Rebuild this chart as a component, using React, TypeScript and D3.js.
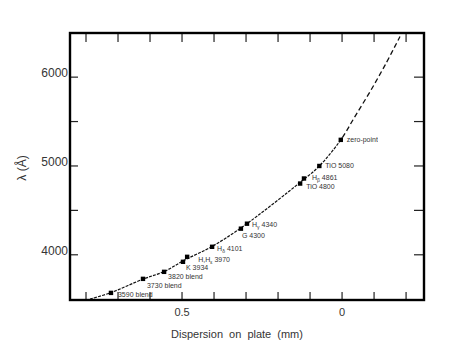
import React from "react";
import * as d3 from "d3";

// Measured calibration points (dispersion on plate in mm, wavelength in Å)
const pointNames = [
  "zero-point", "TiO 5080", "Hβ 4861", "TiO 4800", "Hγ 4340", "G 4300",
  "Hδ 4101", "H,Hε 3970", "K 3934", "3820 blend", "3730 blend", "3590 blend",
];
const dispersion = [0.004, 0.071, 0.119, 0.131, 0.297, 0.316, 0.406, 0.484, 0.497, 0.556, 0.622, 0.722];
const wavelength = [5294, 5000, 4859, 4802, 4350, 4294, 4090, 3977, 3921, 3808, 3729, 3571];

// Fitted dispersion curve
const curveDispersion = [0.7875, 0.7228, 0.6228, 0.5563, 0.4906, 0.4063, 0.3084, 0.1259, 0.0709, 0.004, -0.0406, -0.0875, -0.1344, -0.181];
const curveWavelength = [3502, 3573, 3725, 3811, 3943, 4094, 4321, 4830, 5000, 5294, 5559, 5837, 6136, 6457];

const xTickValues = [0.8, 0.7, 0.6, 0.5, 0.4, 0.3, 0.2, 0.1, 0, -0.1, -0.2];
const xTickLabels = ["0.5", "0"];
const xLabelValues = [0.5, 0];
const yTickValues = [4000, 4500, 5000, 5500, 6000];
const yLabelValues = [4000, 5000, 6000];

// label offsets in px (layout only)
const labelDx = [6, 6, 8, 6, 5, 1, 5, 11, 3, 4, 4, 7];
const labelDy = [0, 0, 0, 4, 1, 7, 2, 3, 6, 5, 7, 2];

const W = 474, H = 348;
const L = 70, R = 424, T = 33, B = 300;

function renderName(name: string) {
  const m = name.match(/^(H,)?H([βγδε])(.*)$/);
  if (!m) return name;
  return (
    <>
      {m[1] ? "H," : ""}H
      <tspan baselineShift="sub" fontSize={5}>{m[2]}</tspan>
      {m[3]}
    </>
  );
}

export default function App() {
  const x = d3.scaleLinear().domain([0.85, -0.256]).range([L, R]);
  const y = d3.scaleLinear().domain([3491, 6497]).range([B, T]);
  const line = d3
    .line<number>()
    .x((_, i) => x(curveDispersion[i]))
    .y((_, i) => y(curveWavelength[i]))
    .curve(d3.curveCatmullRom.alpha(0.5));
  const path = line(curveDispersion) || "";
  const x0 = x(0);
  const textColor = "#333";

  return (
    <svg width={W} height={H} style={{ position: "absolute", left: 0, top: 0, background: "#fff" }}
      fontFamily="Liberation Sans, Arial, sans-serif">
      <defs>
        <clipPath id="lowClip"><rect x={L} y={T} width={x0 - L} height={B - T} /></clipPath>
        <clipPath id="highClip"><rect x={x0} y={T} width={R - x0} height={B - T} /></clipPath>
      </defs>
      <rect x={0} y={0} width={W} height={H} fill="#fff" />

      {xTickValues.map((v) => (
        <g key={"xt" + v}>
          <line x1={x(v)} x2={x(v)} y1={T} y2={T + 9} stroke="#222" strokeWidth={1.2} />
          <line x1={x(v)} x2={x(v)} y1={B} y2={B - 8} stroke="#222" strokeWidth={1.2} />
        </g>
      ))}
      {yTickValues.map((v) => (
        <g key={"yt" + v}>
          <line x1={L} x2={L + 8} y1={y(v)} y2={y(v)} stroke="#222" strokeWidth={1.2} />
          <line x1={R} x2={R - 10} y1={y(v)} y2={y(v)} stroke="#222" strokeWidth={1.2} />
        </g>
      ))}

      <path d={path} fill="none" stroke="#111" strokeWidth={1.2} strokeDasharray="3,1.2" clipPath="url(#lowClip)" />
      <path d={path} fill="none" stroke="#111" strokeWidth={1.3} strokeDasharray="5,3" clipPath="url(#highClip)" />

      {dispersion.map((d, i) => (
        <rect key={"p" + i} x={x(d) - 2.2} y={y(wavelength[i]) - 2.2} width={4.4} height={4.4} fill="#000" />
      ))}
      <g opacity={0.99}>
        {dispersion.map((d, i) => (
          <text key={"l" + i} x={x(d) + labelDx[i]} y={y(wavelength[i]) + labelDy[i]} fontSize={7}
            fill={textColor} dominantBaseline="middle">
            {renderName(pointNames[i])}
          </text>
        ))}
      </g>

      <rect x={L} y={T} width={R - L} height={B - T} fill="none" stroke="#000" strokeWidth={2.4} />

      <g opacity={0.99}>
        {yLabelValues.map((v) => (
          <text key={"yl" + v} x={L - 2} y={y(v) - 3} fontSize={12} fill={textColor} textAnchor="end"
            dominantBaseline="middle">{v}</text>
        ))}
        {xLabelValues.map((v, i) => (
          <text key={"xl" + v} x={x(v)} y={313} fontSize={11} fill={textColor} textAnchor="middle"
            dominantBaseline="middle">{xTickLabels[i]}</text>
        ))}
        <text x={237} y={335} fontSize={11} fill={textColor} textAnchor="middle" dominantBaseline="middle"
          wordSpacing={3}>Dispersion on plate (mm)</text>
        <text transform="translate(23,168) rotate(-90)" fontSize={12} fill={textColor} textAnchor="middle"
          dominantBaseline="middle">λ (Å)</text>
      </g>
    </svg>
  );
}
